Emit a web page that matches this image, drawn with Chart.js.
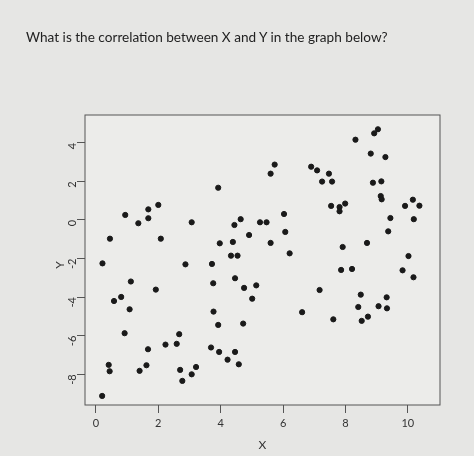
<!DOCTYPE html>
<html><head><meta charset="utf-8">
<script src="https://cdn.jsdelivr.net/npm/chart.js@4/dist/chart.umd.min.js"></script>
<style>
html,body{margin:0;padding:0;background:#e6e6e4;}
#wrap{position:relative;width:474px;height:456px;}
#title{position:absolute;left:26px;top:29px;font-family:Lato,"Open Sans",sans-serif;font-size:13.6px;color:#222;white-space:nowrap;}
canvas{position:absolute;left:0;top:0;}
</style></head><body>
<div id="wrap"><canvas id="c" width="474" height="456"></canvas><div id="title">What is the correlation between X and Y in the graph below?</div></div>
<script>
const xValues=[3.92,0.94,1.68,2.0,1.68,1.36,3.07,0.45,2.08,4.44,4.64,4.91,3.97,4.39,4.33,4.54,0.21,2.87,3.72,1.12,3.76,4.46,4.75,5.14,1.92,0.58,0.81,1.08,5.01,3.77,3.92,4.72,0.92,2.67,2.23,2.59,1.67,3.69,3.95,4.46,4.22,4.58,0.41,0.44,1.62,1.4,2.7,3.21,3.07,2.77,0.2,
9.04,8.92,8.32,8.81,9.28,5.73,5.6,6.9,7.09,7.47,7.25,7.57,8.88,9.15,9.13,9.16,10.16,9.91,10.37,7.54,7.81,7.81,7.99,6.03,5.26,5.47,9.44,10.19,6.07,9.37,5.6,6.21,7.91,8.69,10.02,7.86,8.21,9.83,10.18,7.17,8.49,9.32,8.41,9.06,9.33,6.61,7.61,8.72,8.52];
const yValues=[1.67,0.26,0.55,0.78,0.09,-0.17,-0.12,-0.97,-0.97,-0.26,0.04,-0.78,-1.21,-1.14,-1.85,-1.85,-2.25,-2.3,-2.28,-3.19,-3.28,-3.02,-3.52,-3.39,-3.61,-4.2,-3.99,-4.63,-4.08,-4.75,-5.44,-5.37,-5.87,-5.92,-6.46,-6.42,-6.7,-6.61,-6.84,-6.84,-7.24,-7.48,-7.51,-7.84,-7.53,-7.82,-7.77,-7.62,-8.0,-8.34,-9.12,
4.70,4.49,4.16,3.44,3.26,2.87,2.4,2.76,2.57,2.4,1.99,1.99,1.93,2.0,1.24,1.07,1.05,0.73,0.74,0.73,0.67,0.45,0.85,0.31,-0.12,-0.12,0.1,0.04,-0.62,-0.59,-1.19,-1.73,-1.4,-1.19,-1.87,-2.59,-2.54,-2.61,-2.97,-3.63,-3.87,-4.01,-4.51,-4.47,-4.58,-4.78,-5.15,-5.01,-5.23];
const xTicks=[0,2,4,6,8,10];
const yTicks=[-8,-6,-4,-2,0,2,4];
const pts=xValues.map((x,i)=>({x:x,y:yValues[i]}));
const boxPlugin={id:'box',beforeDraw(ch){const a=ch.chartArea,c=ch.ctx;c.save();c.fillStyle='#ececea';c.fillRect(a.left,a.top,a.right-a.left,a.bottom-a.top);c.restore();},
afterDraw(ch){const a=ch.chartArea,c=ch.ctx;c.save();c.strokeStyle='#555';c.lineWidth=1;c.strokeRect(a.left,a.top,a.right-a.left,a.bottom-a.top);
c.fillStyle='#333';c.font='12px Lato';c.textAlign='center';c.textBaseline='middle';c.translate(60,265);c.rotate(-Math.PI/2);c.fillText('Y',0,0);c.restore();}};
new Chart(document.getElementById('c'),{type:'scatter',
data:{datasets:[{data:pts,backgroundColor:'#1a1a1a',borderColor:'#1a1a1a',pointRadius:2.6}]},
options:{responsive:false,animation:false,plugins:{legend:{display:false},tooltip:{enabled:false}},
layout:{padding:{top:115,right:34,left:0,bottom:0}},
scales:{
x:{type:'linear',min:-0.35,max:11.03,afterBuildTicks(s){s.ticks=xTicks.map(v=>({value:v}));},afterFit(s){s.height=51;},
 grid:{display:true,drawOnChartArea:false,tickLength:8,color:'#555'},border:{display:false},
 ticks:{color:'#333',font:{family:'Lato',size:11},padding:4},
 title:{display:true,text:'X',color:'#333',font:{family:'Lato',size:12},padding:{top:4}}},
y:{type:'linear',min:-9.59,max:5.44,afterBuildTicks(s){s.ticks=yTicks.map(v=>({value:v}));},afterFit(s){s.width=85;},
 grid:{display:true,drawOnChartArea:false,tickLength:8,color:'#555'},border:{display:false},
 ticks:{color:'#333',font:{family:'Lato',size:11},minRotation:90,maxRotation:90,padding:5}}}},
plugins:[boxPlugin]});
</script></body></html>
